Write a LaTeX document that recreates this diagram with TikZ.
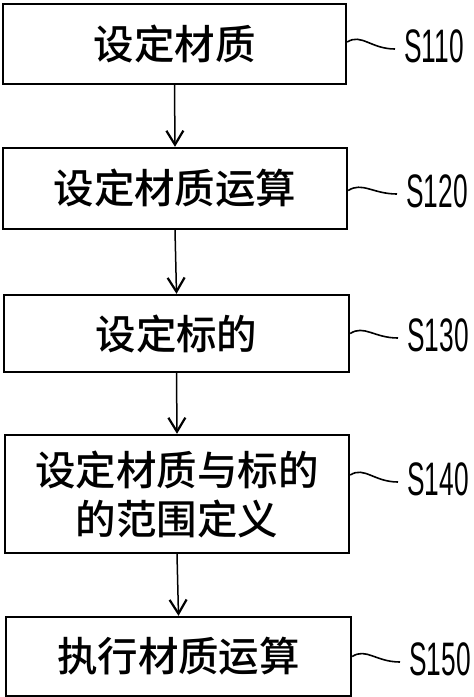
\documentclass[tikz,border=0pt]{standalone}
\usepackage{fontspec}
\newfontfamily\cjk{Noto Sans CJK SC Medium}
\newfontfamily\labfont[FakeStretch=0.56]{Liberation Sans}
\usetikzlibrary{arrows.meta}
\tikzset{
  stepbox/.style={draw, line width=2.4pt, inner sep=0pt, font=\cjk\fontsize{40.5}{49}\selectfont, align=center},
  arr/.style={line width=1.5pt, -{Straight Barb[length=14pt,width=17pt,line width=2.2pt]}},
  sq/.style={line width=1.6pt},
  lab/.style={inner sep=0pt, anchor=west, font=\labfont\fontsize{47}{47}\selectfont}
}
\begin{document}
\begin{tikzpicture}[x=1pt,y=-1pt]
\useasboundingbox (0,0) rectangle (474,697);
\node[stepbox, minimum width=343pt, minimum height=80pt] (b1) at (174.5,44) {设定材质};
\node[stepbox, minimum width=344pt, minimum height=81pt] (b2) at (175,188.5) {设定材质运算};
\node[stepbox, minimum width=345pt, minimum height=77pt] (b3) at (176.5,333.5) {设定标的};
\node[stepbox, minimum width=344pt, minimum height=118pt] (b4) at (177,494) {设定材质与标的\\的范围定义};
\node[stepbox, minimum width=345pt, minimum height=79pt] (b5) at (178.5,656.5) {执行材质运算};
\draw[arr] (b1.south) -- (b2.north);
\draw[arr] (b2.south) -- (b3.north);
\draw[arr] (b3.south) -- (b4.north);
\draw[arr] (b4.south) -- (b5.north);
\node[lab] (l1) at (404,46) {S110};
\node[lab] (l2) at (406,191) {S120};
\node[lab] (l3) at (407,335) {S130};
\node[lab] (l4) at (407,479) {S140};
\node[lab] (l5) at (409,659) {S150};
\draw[sq] ([yshift=2pt]b1.east) .. controls +(14,-9) and +(-24,0) .. ([xshift=-9pt,yshift=-3pt]l1.west);
\draw[sq] ([yshift=-2pt]b2.east) .. controls +(14,-9) and +(-24,0) .. ([xshift=-9pt,yshift=-3pt]l2.west);
\draw[sq] ([yshift=0pt]b3.east) .. controls +(14,-9) and +(-24,0) .. ([xshift=-9pt,yshift=-3pt]l3.west);
\draw[sq] ([yshift=19pt]b4.east) .. controls +(14,-9) and +(-24,0) .. ([xshift=-9pt,yshift=-3pt]l4.west);
\draw[sq] ([yshift=0pt]b5.east) .. controls +(14,-9) and +(-24,0) .. ([xshift=-9pt,yshift=-3pt]l5.west);
\end{tikzpicture}
\end{document}
